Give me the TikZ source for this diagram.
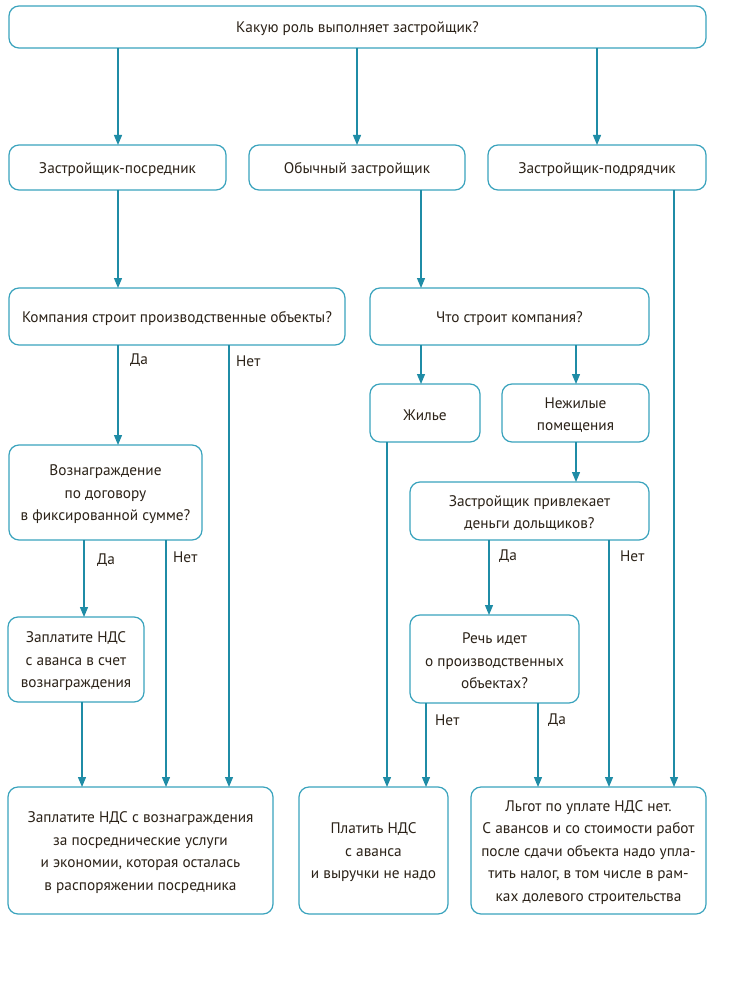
\documentclass[tikz,border=0pt]{standalone}
\usepackage{fontspec}
\setmainfont{PT Sans}
\usetikzlibrary{arrows.meta}
\definecolor{boxline}{HTML}{3AA3BD}
\definecolor{arrline}{HTML}{1F8CA6}
\definecolor{txt}{HTML}{2B2218}
\tikzset{
  box/.style={draw=boxline, line width=1.2pt, rounded corners=10pt, inner sep=0pt, outer sep=0pt,
    anchor=north west},
  boxtext/.style={align=center, text=txt, font=\fontsize{15.3}{22.5}\selectfont, inner sep=0pt},
  arr/.style={draw=arrline, line width=1.2pt, -{Triangle[width=8pt,length=10pt]}},
  lbl/.style={anchor=west, inner sep=0pt, text=txt, font=\fontsize{15.3}{18}\selectfont}
}
\newcommand{\bx}[6]{\node[box, minimum width=#4-#2, minimum height=#5-#3] (#1) at (#2,#3) {};
  \node[boxtext] (#1t) at ({(#2+#4)/2},{(#3+#5)/2+2}) {#6};}
\begin{document}
\begin{tikzpicture}[x=1pt,y=-1pt]
\useasboundingbox[fill=white] (0,0) rectangle (738,984);
\bx{top}{9}{6}{706}{48}{Какую роль выполняет застройщик?}
\bx{pos}{9}{145}{226}{190}{Застройщик-посредник}
\bx{obz}{249}{145}{465}{190}{Обычный застройщик}
\bx{pod}{488}{145}{706}{190}{Застройщик-подрядчик}
\bx{kom}{9}{288}{345}{345}{Компания строит производственные объекты?}
\bx{chto}{370}{288}{649}{345}{Что строит компания?}
\bx{zhil}{370}{384}{480}{442}{Жилье}
\bx{nezh}{502}{384}{649}{442}{Нежилые\\помещения}
\bx{voz}{9}{445}{202}{540}{Вознаграждение\\по договору\\в фиксированной сумме?}
\bx{dol}{410}{482}{649}{540}{Застройщик привлекает\\деньги дольщиков?}
\bx{zav}{8}{617}{144}{702}{Заплатите НДС\\с аванса в счет\\вознаграждения}
\bx{rech}{410}{615}{579}{703}{Речь идет\\о производственных\\объектах?}
\bx{res1}{8}{787}{273}{914}{Заплатите НДС с вознаграждения\\за посреднические услуги\\и экономии, которая осталась\\в распоряжении посредника}
\bx{res2}{299}{787}{448}{914}{Платить НДС\\с аванса\\и выручки не надо}
\bx{res3}{471}{787}{706}{914}{Льгот по уплате НДС нет.\\С авансов и со стоимости работ\\после сдачи объекта надо упла-\\тить налог, в том числе в рам-\\ках долевого строительства}
% arrows from top
\draw[arr] (top.south -| 118,0) -- (pos.north -| 118,0);
\draw[arr] (top.south -| 357,0) -- (obz.north -| 357,0);
\draw[arr] (top.south -| 597,0) -- (pod.north -| 597,0);
\draw[arr] (pos.south -| 118,0) -- (kom.north -| 118,0);
\draw[arr] (obz.south -| 421,0) -- (chto.north -| 421,0);
\draw[arr] (pod.south -| 674,0) -- (res3.north -| 674,0);
% left branch
\draw[arr] (kom.south -| 118,0) -- (voz.north -| 118,0);
\draw[arr] (kom.south -| 229,0) -- (res1.north -| 229,0);
\draw[arr] (voz.south -| 84,0) -- (zav.north -| 84,0);
\draw[arr] (voz.south -| 166,0) -- (res1.north -| 166,0);
\draw[arr] (zav.south -| 82,0) -- (res1.north -| 82,0);
% right branch
\draw[arr] (chto.south -| 421,0) -- (zhil.north -| 421,0);
\draw[arr] (chto.south -| 576,0) -- (nezh.north -| 576,0);
\draw[arr] (zhil.south -| 387,0) -- (res2.north -| 387,0);
\draw[arr] (nezh.south -| 576,0) -- (dol.north -| 576,0);
\draw[arr] (dol.south -| 489,0) -- (rech.north -| 489,0);
\draw[arr] (dol.south -| 609,0) -- (res3.north -| 609,0);
\draw[arr] (rech.south -| 426,0) -- (res2.north -| 426,0);
\draw[arr] (rech.south -| 538,0) -- (res3.north -| 538,0);
% labels
\node[lbl] (l1) at (130,360) {Да};
\node[lbl] (l2) at (236,361) {Нет};
\node[lbl] (l3) at (97,560) {Да};
\node[lbl] (l4) at (173,557) {Нет};
\node[lbl] (l5) at (499,556) {Да};
\node[lbl] (l6) at (620,556) {Нет};
\node[lbl] (l7) at (435,720) {Нет};
\node[lbl] (l8) at (548,720) {Да};
\end{tikzpicture}
\end{document}
